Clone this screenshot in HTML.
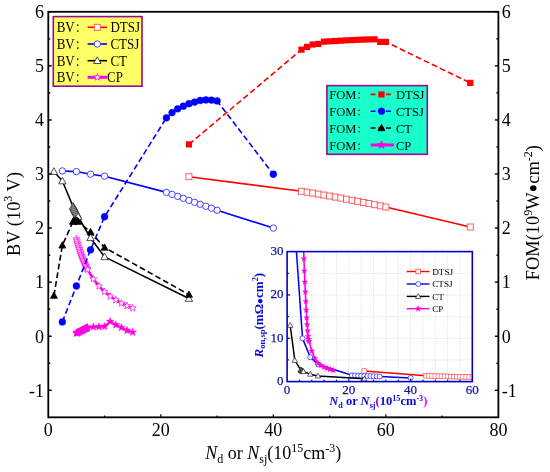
<!DOCTYPE html>
<html lang="en"><head><meta charset="utf-8"><title>BV and FOM versus doping</title>
<style>html,body{margin:0;padding:0;background:#fff}svg{display:block}</style></head>
<body>
<svg width="550" height="472" viewBox="0 0 550 472" font-family="'Liberation Serif', 'Noto Serif CJK SC', serif">
<rect width="550" height="472" fill="#fff"/>
<polyline points="188.95,176.71 301.47,191.27 307.1,192.19 312.72,193.13 318.35,194.09 323.97,195.07 329.6,196.06 335.23,197.08 340.85,198.11 346.48,199.16 352.1,200.23 357.73,201.32 363.36,202.43 368.98,203.55 374.61,204.7 380.23,205.86 385.86,207.04 470.25,227" fill="none" stroke="#ff0000" stroke-width="1.6" stroke-linejoin="round"/>
<rect x="185.95" y="173.71" width="6" height="6" fill="#fff" stroke="#ff5050" stroke-width="0.9"/>
<rect x="298.47" y="188.27" width="6" height="6" fill="#fff" stroke="#ff5050" stroke-width="0.9"/>
<rect x="304.1" y="189.19" width="6" height="6" fill="#fff" stroke="#ff5050" stroke-width="0.9"/>
<rect x="309.72" y="190.13" width="6" height="6" fill="#fff" stroke="#ff5050" stroke-width="0.9"/>
<rect x="315.35" y="191.09" width="6" height="6" fill="#fff" stroke="#ff5050" stroke-width="0.9"/>
<rect x="320.97" y="192.07" width="6" height="6" fill="#fff" stroke="#ff5050" stroke-width="0.9"/>
<rect x="326.6" y="193.06" width="6" height="6" fill="#fff" stroke="#ff5050" stroke-width="0.9"/>
<rect x="332.23" y="194.08" width="6" height="6" fill="#fff" stroke="#ff5050" stroke-width="0.9"/>
<rect x="337.85" y="195.11" width="6" height="6" fill="#fff" stroke="#ff5050" stroke-width="0.9"/>
<rect x="343.48" y="196.16" width="6" height="6" fill="#fff" stroke="#ff5050" stroke-width="0.9"/>
<rect x="349.1" y="197.23" width="6" height="6" fill="#fff" stroke="#ff5050" stroke-width="0.9"/>
<rect x="354.73" y="198.32" width="6" height="6" fill="#fff" stroke="#ff5050" stroke-width="0.9"/>
<rect x="360.36" y="199.43" width="6" height="6" fill="#fff" stroke="#ff5050" stroke-width="0.9"/>
<rect x="365.98" y="200.55" width="6" height="6" fill="#fff" stroke="#ff5050" stroke-width="0.9"/>
<rect x="371.61" y="201.7" width="6" height="6" fill="#fff" stroke="#ff5050" stroke-width="0.9"/>
<rect x="377.23" y="202.86" width="6" height="6" fill="#fff" stroke="#ff5050" stroke-width="0.9"/>
<rect x="382.86" y="204.04" width="6" height="6" fill="#fff" stroke="#ff5050" stroke-width="0.9"/>
<rect x="467.25" y="224" width="6" height="6" fill="#fff" stroke="#ff5050" stroke-width="0.9"/>
<polyline points="62.36,170.93 76.43,171.58 90.5,174.23 104.56,176.17 166.45,192.39 172.07,194.38 177.7,196.36 183.32,198.34 188.95,200.32 194.58,202.31 200.2,204.29 205.83,206.27 211.45,208.25 217.08,210.24 273.34,228.08" fill="none" stroke="#0000ff" stroke-width="1.6" stroke-linejoin="round"/>
<circle cx="62.36" cy="170.93" r="3.2" fill="#fff" stroke="#3030ff" stroke-width="0.9"/>
<circle cx="76.43" cy="171.58" r="3.2" fill="#fff" stroke="#3030ff" stroke-width="0.9"/>
<circle cx="90.5" cy="174.23" r="3.2" fill="#fff" stroke="#3030ff" stroke-width="0.9"/>
<circle cx="104.56" cy="176.17" r="3.2" fill="#fff" stroke="#3030ff" stroke-width="0.9"/>
<circle cx="166.45" cy="192.39" r="3.2" fill="#fff" stroke="#3030ff" stroke-width="0.9"/>
<circle cx="172.07" cy="194.38" r="3.2" fill="#fff" stroke="#3030ff" stroke-width="0.9"/>
<circle cx="177.7" cy="196.36" r="3.2" fill="#fff" stroke="#3030ff" stroke-width="0.9"/>
<circle cx="183.32" cy="198.34" r="3.2" fill="#fff" stroke="#3030ff" stroke-width="0.9"/>
<circle cx="188.95" cy="200.32" r="3.2" fill="#fff" stroke="#3030ff" stroke-width="0.9"/>
<circle cx="194.58" cy="202.31" r="3.2" fill="#fff" stroke="#3030ff" stroke-width="0.9"/>
<circle cx="200.2" cy="204.29" r="3.2" fill="#fff" stroke="#3030ff" stroke-width="0.9"/>
<circle cx="205.83" cy="206.27" r="3.2" fill="#fff" stroke="#3030ff" stroke-width="0.9"/>
<circle cx="211.45" cy="208.25" r="3.2" fill="#fff" stroke="#3030ff" stroke-width="0.9"/>
<circle cx="217.08" cy="210.24" r="3.2" fill="#fff" stroke="#3030ff" stroke-width="0.9"/>
<circle cx="273.34" cy="228.08" r="3.2" fill="#fff" stroke="#3030ff" stroke-width="0.9"/>
<polyline points="53.93,171.58 62.36,181.04 73.05,206.45 73.62,207.59 74.18,208.73 74.74,209.88 75.3,211.02 75.87,212.16 76.43,213.3 76.99,214.44 77.56,215.58 78.12,216.73 90.5,237.81 104.56,256.9 188.95,298.53" fill="none" stroke="#000000" stroke-width="1.6" stroke-linejoin="round"/>
<polygon points="53.93,167.71 50.23,174.37 57.63,174.37" fill="#fff" stroke="#222" stroke-width="0.8" stroke-linejoin="miter"/>
<polygon points="62.36,177.18 58.66,183.84 66.06,183.84" fill="#fff" stroke="#222" stroke-width="0.8" stroke-linejoin="miter"/>
<polygon points="73.05,202.59 69.35,209.25 76.75,209.25" fill="#fff" stroke="#222" stroke-width="0.8" stroke-linejoin="miter"/>
<polygon points="73.62,203.73 69.92,210.39 77.32,210.39" fill="#fff" stroke="#222" stroke-width="0.8" stroke-linejoin="miter"/>
<polygon points="74.18,204.87 70.48,211.53 77.88,211.53" fill="#fff" stroke="#222" stroke-width="0.8" stroke-linejoin="miter"/>
<polygon points="74.74,206.01 71.04,212.67 78.44,212.67" fill="#fff" stroke="#222" stroke-width="0.8" stroke-linejoin="miter"/>
<polygon points="75.3,207.16 71.6,213.82 79,213.82" fill="#fff" stroke="#222" stroke-width="0.8" stroke-linejoin="miter"/>
<polygon points="75.87,208.3 72.17,214.96 79.57,214.96" fill="#fff" stroke="#222" stroke-width="0.8" stroke-linejoin="miter"/>
<polygon points="76.43,209.44 72.73,216.1 80.13,216.1" fill="#fff" stroke="#222" stroke-width="0.8" stroke-linejoin="miter"/>
<polygon points="76.99,210.58 73.29,217.24 80.69,217.24" fill="#fff" stroke="#222" stroke-width="0.8" stroke-linejoin="miter"/>
<polygon points="77.56,211.72 73.86,218.38 81.26,218.38" fill="#fff" stroke="#222" stroke-width="0.8" stroke-linejoin="miter"/>
<polygon points="78.12,212.86 74.42,219.52 81.82,219.52" fill="#fff" stroke="#222" stroke-width="0.8" stroke-linejoin="miter"/>
<polygon points="90.5,233.95 86.8,240.61 94.2,240.61" fill="#fff" stroke="#222" stroke-width="0.8" stroke-linejoin="miter"/>
<polygon points="104.56,253.04 100.86,259.7 108.26,259.7" fill="#fff" stroke="#222" stroke-width="0.8" stroke-linejoin="miter"/>
<polygon points="188.95,294.67 185.25,301.33 192.65,301.33" fill="#fff" stroke="#222" stroke-width="0.8" stroke-linejoin="miter"/>
<polyline points="76.43,238.89 76.99,241.05 77.56,243.11 78.12,245.1 78.68,247 79.24,248.83 79.81,250.59 80.37,252.29 80.93,253.92 81.49,255.5 82.06,257.01 82.62,258.48 83.18,259.9 83.74,261.26 84.31,262.59 84.87,263.86 85.43,265.1 85.99,266.3 86.56,267.46 87.12,268.59 87.68,269.68 93.31,279 98.93,286.13 104.56,291.75 110.19,296.29 115.81,300.03 121.44,303.16 127.06,305.82 132.69,308.1" fill="none" stroke="#ff00e0" stroke-width="2.6" stroke-linejoin="round"/>
<polygon points="76.43,235.19 77.34,237.64 79.95,237.75 77.91,239.37 78.6,241.89 76.43,240.45 74.26,241.89 74.95,239.37 72.91,237.75 75.52,237.64" fill="#fff" stroke="#ff00e0" stroke-width="0.7" stroke-linejoin="miter"/>
<polygon points="76.99,237.35 77.91,239.79 80.51,239.9 78.47,241.53 79.17,244.04 76.99,242.6 74.82,244.04 75.51,241.53 73.47,239.9 76.08,239.79" fill="#fff" stroke="#ff00e0" stroke-width="0.7" stroke-linejoin="miter"/>
<polygon points="77.56,239.41 78.47,241.86 81.07,241.97 79.03,243.59 79.73,246.11 77.56,244.67 75.38,246.11 76.08,243.59 74.04,241.97 76.64,241.86" fill="#fff" stroke="#ff00e0" stroke-width="0.7" stroke-linejoin="miter"/>
<polygon points="78.12,241.4 79.03,243.84 81.64,243.95 79.6,245.58 80.29,248.09 78.12,246.65 75.94,248.09 76.64,245.58 74.6,243.95 77.2,243.84" fill="#fff" stroke="#ff00e0" stroke-width="0.7" stroke-linejoin="miter"/>
<polygon points="78.68,243.3 79.59,245.74 82.2,245.86 80.16,247.48 80.86,249.99 78.68,248.55 76.51,249.99 77.2,247.48 75.16,245.86 77.77,245.74" fill="#fff" stroke="#ff00e0" stroke-width="0.7" stroke-linejoin="miter"/>
<polygon points="79.24,245.13 80.16,247.57 82.76,247.69 80.72,249.31 81.42,251.82 79.24,250.39 77.07,251.82 77.77,249.31 75.72,247.69 78.33,247.57" fill="#fff" stroke="#ff00e0" stroke-width="0.7" stroke-linejoin="miter"/>
<polygon points="79.81,246.89 80.72,249.34 83.32,249.45 81.28,251.07 81.98,253.59 79.81,252.15 77.63,253.59 78.33,251.07 76.29,249.45 78.89,249.34" fill="#fff" stroke="#ff00e0" stroke-width="0.7" stroke-linejoin="miter"/>
<polygon points="80.37,248.59 81.28,251.03 83.89,251.14 81.85,252.77 82.54,255.28 80.37,253.84 78.19,255.28 78.89,252.77 76.85,251.14 79.45,251.03" fill="#fff" stroke="#ff00e0" stroke-width="0.7" stroke-linejoin="miter"/>
<polygon points="80.93,250.22 81.84,252.66 84.45,252.78 82.41,254.4 83.11,256.91 80.93,255.48 78.76,256.91 79.45,254.4 77.41,252.78 80.02,252.66" fill="#fff" stroke="#ff00e0" stroke-width="0.7" stroke-linejoin="miter"/>
<polygon points="81.49,251.8 82.41,254.24 85.01,254.35 82.97,255.98 83.67,258.49 81.49,257.05 79.32,258.49 80.02,255.98 77.97,254.35 80.58,254.24" fill="#fff" stroke="#ff00e0" stroke-width="0.7" stroke-linejoin="miter"/>
<polygon points="82.06,253.31 82.97,255.76 85.57,255.87 83.53,257.49 84.23,260.01 82.06,258.57 79.88,260.01 80.58,257.49 78.54,255.87 81.14,255.76" fill="#fff" stroke="#ff00e0" stroke-width="0.7" stroke-linejoin="miter"/>
<polygon points="82.62,254.78 83.53,257.22 86.14,257.34 84.1,258.96 84.79,261.47 82.62,260.03 80.44,261.47 81.14,258.96 79.1,257.34 81.71,257.22" fill="#fff" stroke="#ff00e0" stroke-width="0.7" stroke-linejoin="miter"/>
<polygon points="83.18,256.2 84.09,258.64 86.7,258.75 84.66,260.38 85.36,262.89 83.18,261.45 81.01,262.89 81.7,260.38 79.66,258.75 82.27,258.64" fill="#fff" stroke="#ff00e0" stroke-width="0.7" stroke-linejoin="miter"/>
<polygon points="83.74,257.56 84.66,260.01 87.26,260.12 85.22,261.74 85.92,264.26 83.74,262.82 81.57,264.26 82.27,261.74 80.22,260.12 82.83,260.01" fill="#fff" stroke="#ff00e0" stroke-width="0.7" stroke-linejoin="miter"/>
<polygon points="84.31,258.89 85.22,261.33 87.83,261.44 85.78,263.07 86.48,265.58 84.31,264.14 82.13,265.58 82.83,263.07 80.79,261.44 83.39,261.33" fill="#fff" stroke="#ff00e0" stroke-width="0.7" stroke-linejoin="miter"/>
<polygon points="84.87,260.16 85.78,262.61 88.39,262.72 86.35,264.34 87.04,266.86 84.87,265.42 82.69,266.86 83.39,264.34 81.35,262.72 83.96,262.61" fill="#fff" stroke="#ff00e0" stroke-width="0.7" stroke-linejoin="miter"/>
<polygon points="85.43,261.4 86.35,263.84 88.95,263.96 86.91,265.58 87.61,268.1 85.43,266.66 83.26,268.1 83.95,265.58 81.91,263.96 84.52,263.84" fill="#fff" stroke="#ff00e0" stroke-width="0.7" stroke-linejoin="miter"/>
<polygon points="85.99,262.6 86.91,265.04 89.51,265.16 87.47,266.78 88.17,269.29 85.99,267.85 83.82,269.29 84.52,266.78 82.48,265.16 85.08,265.04" fill="#fff" stroke="#ff00e0" stroke-width="0.7" stroke-linejoin="miter"/>
<polygon points="86.56,263.76 87.47,266.2 90.08,266.32 88.03,267.94 88.73,270.45 86.56,269.01 84.38,270.45 85.08,267.94 83.04,266.32 85.64,266.2" fill="#fff" stroke="#ff00e0" stroke-width="0.7" stroke-linejoin="miter"/>
<polygon points="87.12,264.89 88.03,267.33 90.64,267.44 88.6,269.07 89.29,271.58 87.12,270.14 84.94,271.58 85.64,269.07 83.6,267.44 86.21,267.33" fill="#fff" stroke="#ff00e0" stroke-width="0.7" stroke-linejoin="miter"/>
<polygon points="87.68,265.98 88.6,268.42 91.2,268.53 89.16,270.16 89.86,272.67 87.68,271.23 85.51,272.67 86.2,270.16 84.16,268.53 86.77,268.42" fill="#fff" stroke="#ff00e0" stroke-width="0.7" stroke-linejoin="miter"/>
<polygon points="93.31,275.3 94.22,277.74 96.83,277.85 94.79,279.48 95.48,281.99 93.31,280.55 91.13,281.99 91.83,279.48 89.79,277.85 92.39,277.74" fill="#fff" stroke="#ff00e0" stroke-width="0.7" stroke-linejoin="miter"/>
<polygon points="98.93,282.43 99.85,284.87 102.45,284.98 100.41,286.61 101.11,289.12 98.93,287.68 96.76,289.12 97.46,286.61 95.42,284.98 98.02,284.87" fill="#fff" stroke="#ff00e0" stroke-width="0.7" stroke-linejoin="miter"/>
<polygon points="104.56,288.05 105.47,290.49 108.08,290.61 106.04,292.23 106.73,294.74 104.56,293.3 102.39,294.74 103.08,292.23 101.04,290.61 103.65,290.49" fill="#fff" stroke="#ff00e0" stroke-width="0.7" stroke-linejoin="miter"/>
<polygon points="110.19,292.59 111.1,295.03 113.7,295.15 111.66,296.77 112.36,299.28 110.19,297.84 108.01,299.28 108.71,296.77 106.67,295.15 109.27,295.03" fill="#fff" stroke="#ff00e0" stroke-width="0.7" stroke-linejoin="miter"/>
<polygon points="115.81,296.33 116.73,298.77 119.33,298.89 117.29,300.51 117.99,303.02 115.81,301.58 113.64,303.02 114.33,300.51 112.29,298.89 114.9,298.77" fill="#fff" stroke="#ff00e0" stroke-width="0.7" stroke-linejoin="miter"/>
<polygon points="121.44,299.46 122.35,301.9 124.96,302.02 122.92,303.64 123.61,306.15 121.44,304.71 119.26,306.15 119.96,303.64 117.92,302.02 120.52,301.9" fill="#fff" stroke="#ff00e0" stroke-width="0.7" stroke-linejoin="miter"/>
<polygon points="127.06,302.12 127.98,304.56 130.58,304.67 128.54,306.3 129.24,308.81 127.06,307.37 124.89,308.81 125.59,306.3 123.55,304.67 126.15,304.56" fill="#fff" stroke="#ff00e0" stroke-width="0.7" stroke-linejoin="miter"/>
<polygon points="132.69,304.4 133.6,306.84 136.21,306.95 134.17,308.58 134.86,311.09 132.69,309.65 130.52,311.09 131.21,308.58 129.17,306.95 131.78,306.84" fill="#fff" stroke="#ff00e0" stroke-width="0.7" stroke-linejoin="miter"/>
<polyline points="188.95,144.38 301.47,49.65 307.1,46.95 312.72,44.51 318.35,43.97 323.97,41.65 329.6,41.32 335.23,41 340.85,40.67 346.48,40.35 352.1,40.08 357.73,39.81 363.36,39.59 368.98,39.43 374.61,39.32 380.23,41.92 385.86,41.92 470.25,82.9" fill="none" stroke="#ff0000" stroke-width="1.6" stroke-dasharray="5.8 3.1" stroke-linejoin="round"/>
<rect x="185.85" y="141.28" width="6.2" height="6.2" fill="#ff0000" stroke="#ff0000" stroke-width="0"/>
<rect x="298.37" y="46.55" width="6.2" height="6.2" fill="#ff0000" stroke="#ff0000" stroke-width="0"/>
<rect x="304" y="43.85" width="6.2" height="6.2" fill="#ff0000" stroke="#ff0000" stroke-width="0"/>
<rect x="309.62" y="41.41" width="6.2" height="6.2" fill="#ff0000" stroke="#ff0000" stroke-width="0"/>
<rect x="315.25" y="40.87" width="6.2" height="6.2" fill="#ff0000" stroke="#ff0000" stroke-width="0"/>
<rect x="320.87" y="38.55" width="6.2" height="6.2" fill="#ff0000" stroke="#ff0000" stroke-width="0"/>
<rect x="326.5" y="38.22" width="6.2" height="6.2" fill="#ff0000" stroke="#ff0000" stroke-width="0"/>
<rect x="332.13" y="37.9" width="6.2" height="6.2" fill="#ff0000" stroke="#ff0000" stroke-width="0"/>
<rect x="337.75" y="37.57" width="6.2" height="6.2" fill="#ff0000" stroke="#ff0000" stroke-width="0"/>
<rect x="343.38" y="37.25" width="6.2" height="6.2" fill="#ff0000" stroke="#ff0000" stroke-width="0"/>
<rect x="349" y="36.98" width="6.2" height="6.2" fill="#ff0000" stroke="#ff0000" stroke-width="0"/>
<rect x="354.63" y="36.71" width="6.2" height="6.2" fill="#ff0000" stroke="#ff0000" stroke-width="0"/>
<rect x="360.26" y="36.49" width="6.2" height="6.2" fill="#ff0000" stroke="#ff0000" stroke-width="0"/>
<rect x="365.88" y="36.33" width="6.2" height="6.2" fill="#ff0000" stroke="#ff0000" stroke-width="0"/>
<rect x="371.51" y="36.22" width="6.2" height="6.2" fill="#ff0000" stroke="#ff0000" stroke-width="0"/>
<rect x="377.13" y="38.82" width="6.2" height="6.2" fill="#ff0000" stroke="#ff0000" stroke-width="0"/>
<rect x="382.76" y="38.82" width="6.2" height="6.2" fill="#ff0000" stroke="#ff0000" stroke-width="0"/>
<rect x="467.15" y="79.8" width="6.2" height="6.2" fill="#ff0000" stroke="#ff0000" stroke-width="0"/>
<polyline points="62.36,321.89 76.43,285.99 90.5,249.87 104.56,216.73 166.45,117.78 172.07,112.59 177.7,108.8 183.32,106.21 188.95,103.72 194.58,102.1 200.2,100.47 205.83,99.93 211.45,100.1 217.08,100.91 273.34,174.23" fill="none" stroke="#0000ff" stroke-width="1.6" stroke-dasharray="5.8 3.1" stroke-linejoin="round"/>
<circle cx="62.36" cy="321.89" r="3.4" fill="#0000ff" stroke="#0000ff" stroke-width="0.5"/>
<circle cx="76.43" cy="285.99" r="3.4" fill="#0000ff" stroke="#0000ff" stroke-width="0.5"/>
<circle cx="90.5" cy="249.87" r="3.4" fill="#0000ff" stroke="#0000ff" stroke-width="0.5"/>
<circle cx="104.56" cy="216.73" r="3.4" fill="#0000ff" stroke="#0000ff" stroke-width="0.5"/>
<circle cx="166.45" cy="117.78" r="3.4" fill="#0000ff" stroke="#0000ff" stroke-width="0.5"/>
<circle cx="172.07" cy="112.59" r="3.4" fill="#0000ff" stroke="#0000ff" stroke-width="0.5"/>
<circle cx="177.7" cy="108.8" r="3.4" fill="#0000ff" stroke="#0000ff" stroke-width="0.5"/>
<circle cx="183.32" cy="106.21" r="3.4" fill="#0000ff" stroke="#0000ff" stroke-width="0.5"/>
<circle cx="188.95" cy="103.72" r="3.4" fill="#0000ff" stroke="#0000ff" stroke-width="0.5"/>
<circle cx="194.58" cy="102.1" r="3.4" fill="#0000ff" stroke="#0000ff" stroke-width="0.5"/>
<circle cx="200.2" cy="100.47" r="3.4" fill="#0000ff" stroke="#0000ff" stroke-width="0.5"/>
<circle cx="205.83" cy="99.93" r="3.4" fill="#0000ff" stroke="#0000ff" stroke-width="0.5"/>
<circle cx="211.45" cy="100.1" r="3.4" fill="#0000ff" stroke="#0000ff" stroke-width="0.5"/>
<circle cx="217.08" cy="100.91" r="3.4" fill="#0000ff" stroke="#0000ff" stroke-width="0.5"/>
<circle cx="273.34" cy="174.23" r="3.4" fill="#0000ff" stroke="#0000ff" stroke-width="0.5"/>
<polyline points="53.93,295.67 62.36,245.38 73.05,221.59 73.62,221.22 74.18,220.9 74.74,220.66 75.3,220.53 75.87,220.53 76.43,220.66 76.99,220.9 77.56,221.22 78.12,221.59 90.5,231.97 104.56,247.55 188.95,294.59" fill="none" stroke="#000000" stroke-width="1.6" stroke-dasharray="5.8 3.1" stroke-linejoin="round"/>
<polygon points="53.93,292.01 50.43,298.31 57.43,298.31" fill="#000000" stroke="#000000" stroke-width="0.8" stroke-linejoin="miter"/>
<polygon points="62.36,241.73 58.86,248.03 65.86,248.03" fill="#000000" stroke="#000000" stroke-width="0.8" stroke-linejoin="miter"/>
<polygon points="73.05,217.94 69.55,224.24 76.55,224.24" fill="#000000" stroke="#000000" stroke-width="0.8" stroke-linejoin="miter"/>
<polygon points="73.62,217.57 70.12,223.87 77.12,223.87" fill="#000000" stroke="#000000" stroke-width="0.8" stroke-linejoin="miter"/>
<polygon points="74.18,217.24 70.68,223.54 77.68,223.54" fill="#000000" stroke="#000000" stroke-width="0.8" stroke-linejoin="miter"/>
<polygon points="74.74,217 71.24,223.3 78.24,223.3" fill="#000000" stroke="#000000" stroke-width="0.8" stroke-linejoin="miter"/>
<polygon points="75.3,216.87 71.8,223.17 78.8,223.17" fill="#000000" stroke="#000000" stroke-width="0.8" stroke-linejoin="miter"/>
<polygon points="75.87,216.87 72.37,223.17 79.37,223.17" fill="#000000" stroke="#000000" stroke-width="0.8" stroke-linejoin="miter"/>
<polygon points="76.43,217 72.93,223.3 79.93,223.3" fill="#000000" stroke="#000000" stroke-width="0.8" stroke-linejoin="miter"/>
<polygon points="76.99,217.24 73.49,223.54 80.49,223.54" fill="#000000" stroke="#000000" stroke-width="0.8" stroke-linejoin="miter"/>
<polygon points="77.56,217.57 74.06,223.87 81.06,223.87" fill="#000000" stroke="#000000" stroke-width="0.8" stroke-linejoin="miter"/>
<polygon points="78.12,217.94 74.62,224.24 81.62,224.24" fill="#000000" stroke="#000000" stroke-width="0.8" stroke-linejoin="miter"/>
<polygon points="90.5,228.32 87,234.62 94,234.62" fill="#000000" stroke="#000000" stroke-width="0.8" stroke-linejoin="miter"/>
<polygon points="104.56,243.89 101.06,250.19 108.06,250.19" fill="#000000" stroke="#000000" stroke-width="0.8" stroke-linejoin="miter"/>
<polygon points="188.95,290.93 185.45,297.23 192.45,297.23" fill="#000000" stroke="#000000" stroke-width="0.8" stroke-linejoin="miter"/>
<polyline points="76.43,333.19 76.99,332.91 77.56,332.63 78.12,332.35 78.68,332.07 79.24,331.79 79.81,331.51 80.37,331.22 80.93,330.94 81.49,330.66 82.06,330.38 82.62,330.1 83.18,329.82 83.74,329.54 84.31,329.26 84.87,328.97 85.43,328.69 85.99,328.41 86.56,328.13 87.12,327.85 87.68,327.57 93.31,326.92 98.93,326.76 104.56,326.49 110.19,321.51 115.81,324.87 121.44,327.57 127.06,330.43 132.69,332.27" fill="none" stroke="#ff00e0" stroke-width="2.0" stroke-linejoin="round"/>
<polygon points="76.43,329.09 77.44,331.8 80.33,331.93 78.07,333.72 78.84,336.51 76.43,334.91 74.02,336.51 74.79,333.72 72.53,331.93 75.42,331.8" fill="#ff00e0" stroke="#ff00e0" stroke-width="0.4" stroke-linejoin="miter"/>
<polygon points="76.99,328.81 78,331.52 80.89,331.64 78.63,333.44 79.4,336.23 76.99,334.63 74.58,336.23 75.35,333.44 73.09,331.64 75.98,331.52" fill="#ff00e0" stroke="#ff00e0" stroke-width="0.4" stroke-linejoin="miter"/>
<polygon points="77.56,328.53 78.57,331.24 81.45,331.36 79.19,333.16 79.97,335.95 77.56,334.35 75.15,335.95 75.92,333.16 73.66,331.36 76.54,331.24" fill="#ff00e0" stroke="#ff00e0" stroke-width="0.4" stroke-linejoin="miter"/>
<polygon points="78.12,328.25 79.13,330.96 82.02,331.08 79.76,332.88 80.53,335.67 78.12,334.07 75.71,335.67 76.48,332.88 74.22,331.08 77.11,330.96" fill="#ff00e0" stroke="#ff00e0" stroke-width="0.4" stroke-linejoin="miter"/>
<polygon points="78.68,327.97 79.69,330.67 82.58,330.8 80.32,332.6 81.09,335.38 78.68,333.79 76.27,335.38 77.04,332.6 74.78,330.8 77.67,330.67" fill="#ff00e0" stroke="#ff00e0" stroke-width="0.4" stroke-linejoin="miter"/>
<polygon points="79.24,327.69 80.26,330.39 83.14,330.52 80.88,332.32 81.65,335.1 79.24,333.51 76.83,335.1 77.61,332.32 75.34,330.52 78.23,330.39" fill="#ff00e0" stroke="#ff00e0" stroke-width="0.4" stroke-linejoin="miter"/>
<polygon points="79.81,327.41 80.82,330.11 83.7,330.24 81.44,332.04 82.22,334.82 79.81,333.23 77.4,334.82 78.17,332.04 75.91,330.24 78.79,330.11" fill="#ff00e0" stroke="#ff00e0" stroke-width="0.4" stroke-linejoin="miter"/>
<polygon points="80.37,327.12 81.38,329.83 84.27,329.96 82.01,331.76 82.78,334.54 80.37,332.95 77.96,334.54 78.73,331.76 76.47,329.96 79.36,329.83" fill="#ff00e0" stroke="#ff00e0" stroke-width="0.4" stroke-linejoin="miter"/>
<polygon points="80.93,326.84 81.94,329.55 84.83,329.68 82.57,331.47 83.34,334.26 80.93,332.66 78.52,334.26 79.29,331.47 77.03,329.68 79.92,329.55" fill="#ff00e0" stroke="#ff00e0" stroke-width="0.4" stroke-linejoin="miter"/>
<polygon points="81.49,326.56 82.51,329.27 85.39,329.39 83.13,331.19 83.9,333.98 81.49,332.38 79.08,333.98 79.86,331.19 77.59,329.39 80.48,329.27" fill="#ff00e0" stroke="#ff00e0" stroke-width="0.4" stroke-linejoin="miter"/>
<polygon points="82.06,326.28 83.07,328.99 85.96,329.11 83.69,330.91 84.47,333.7 82.06,332.1 79.65,333.7 80.42,330.91 78.16,329.11 81.04,328.99" fill="#ff00e0" stroke="#ff00e0" stroke-width="0.4" stroke-linejoin="miter"/>
<polygon points="82.62,326 83.63,328.71 86.52,328.83 84.26,330.63 85.03,333.42 82.62,331.82 80.21,333.42 80.98,330.63 78.72,328.83 81.61,328.71" fill="#ff00e0" stroke="#ff00e0" stroke-width="0.4" stroke-linejoin="miter"/>
<polygon points="83.18,325.72 84.19,328.42 87.08,328.55 84.82,330.35 85.59,333.14 83.18,331.54 80.77,333.14 81.54,330.35 79.28,328.55 82.17,328.42" fill="#ff00e0" stroke="#ff00e0" stroke-width="0.4" stroke-linejoin="miter"/>
<polygon points="83.74,325.44 84.76,328.14 87.64,328.27 85.38,330.07 86.15,332.85 83.74,331.26 81.33,332.85 82.11,330.07 79.84,328.27 82.73,328.14" fill="#ff00e0" stroke="#ff00e0" stroke-width="0.4" stroke-linejoin="miter"/>
<polygon points="84.31,325.16 85.32,327.86 88.21,327.99 85.94,329.79 86.72,332.57 84.31,330.98 81.9,332.57 82.67,329.79 80.41,327.99 83.29,327.86" fill="#ff00e0" stroke="#ff00e0" stroke-width="0.4" stroke-linejoin="miter"/>
<polygon points="84.87,324.87 85.88,327.58 88.77,327.71 86.51,329.51 87.28,332.29 84.87,330.7 82.46,332.29 83.23,329.51 80.97,327.71 83.86,327.58" fill="#ff00e0" stroke="#ff00e0" stroke-width="0.4" stroke-linejoin="miter"/>
<polygon points="85.43,324.59 86.44,327.3 89.33,327.43 87.07,329.23 87.84,332.01 85.43,330.42 83.02,332.01 83.79,329.23 81.53,327.43 84.42,327.3" fill="#ff00e0" stroke="#ff00e0" stroke-width="0.4" stroke-linejoin="miter"/>
<polygon points="85.99,324.31 87.01,327.02 89.89,327.15 87.63,328.94 88.4,331.73 85.99,330.13 83.58,331.73 84.36,328.94 82.09,327.15 84.98,327.02" fill="#ff00e0" stroke="#ff00e0" stroke-width="0.4" stroke-linejoin="miter"/>
<polygon points="86.56,324.03 87.57,326.74 90.46,326.86 88.19,328.66 88.97,331.45 86.56,329.85 84.15,331.45 84.92,328.66 82.66,326.86 85.54,326.74" fill="#ff00e0" stroke="#ff00e0" stroke-width="0.4" stroke-linejoin="miter"/>
<polygon points="87.12,323.75 88.13,326.46 91.02,326.58 88.76,328.38 89.53,331.17 87.12,329.57 84.71,331.17 85.48,328.38 83.22,326.58 86.11,326.46" fill="#ff00e0" stroke="#ff00e0" stroke-width="0.4" stroke-linejoin="miter"/>
<polygon points="87.68,323.47 88.69,326.18 91.58,326.3 89.32,328.1 90.09,330.89 87.68,329.29 85.27,330.89 86.04,328.1 83.78,326.3 86.67,326.18" fill="#ff00e0" stroke="#ff00e0" stroke-width="0.4" stroke-linejoin="miter"/>
<polygon points="93.31,322.82 94.32,325.53 97.21,325.65 94.95,327.45 95.72,330.24 93.31,328.64 90.9,330.24 91.67,327.45 89.41,325.65 92.3,325.53" fill="#ff00e0" stroke="#ff00e0" stroke-width="0.4" stroke-linejoin="miter"/>
<polygon points="98.93,322.66 99.95,325.36 102.83,325.49 100.57,327.29 101.34,330.07 98.93,328.48 96.52,330.07 97.3,327.29 95.03,325.49 97.92,325.36" fill="#ff00e0" stroke="#ff00e0" stroke-width="0.4" stroke-linejoin="miter"/>
<polygon points="104.56,322.39 105.57,325.09 108.46,325.22 106.2,327.02 106.97,329.8 104.56,328.21 102.15,329.8 102.92,327.02 100.66,325.22 103.55,325.09" fill="#ff00e0" stroke="#ff00e0" stroke-width="0.4" stroke-linejoin="miter"/>
<polygon points="110.19,317.41 111.2,320.12 114.09,320.25 111.82,322.05 112.6,324.83 110.19,323.23 107.78,324.83 108.55,322.05 106.29,320.25 109.17,320.12" fill="#ff00e0" stroke="#ff00e0" stroke-width="0.4" stroke-linejoin="miter"/>
<polygon points="115.81,320.77 116.82,323.47 119.71,323.6 117.45,325.4 118.22,328.18 115.81,326.59 113.4,328.18 114.17,325.4 111.91,323.6 114.8,323.47" fill="#ff00e0" stroke="#ff00e0" stroke-width="0.4" stroke-linejoin="miter"/>
<polygon points="121.44,323.47 122.45,326.18 125.34,326.3 123.08,328.1 123.85,330.89 121.44,329.29 119.03,330.89 119.8,328.1 117.54,326.3 120.43,326.18" fill="#ff00e0" stroke="#ff00e0" stroke-width="0.4" stroke-linejoin="miter"/>
<polygon points="127.06,326.33 128.08,329.04 130.96,329.17 128.7,330.97 129.47,333.75 127.06,332.16 124.65,333.75 125.43,330.97 123.16,329.17 126.05,329.04" fill="#ff00e0" stroke="#ff00e0" stroke-width="0.4" stroke-linejoin="miter"/>
<polygon points="132.69,328.17 133.7,330.88 136.59,331.01 134.33,332.81 135.1,335.59 132.69,333.99 130.28,335.59 131.05,332.81 128.79,331.01 131.68,330.88" fill="#ff00e0" stroke="#ff00e0" stroke-width="0.4" stroke-linejoin="miter"/>
<rect x="48.3" y="11.8" width="450.08" height="405.52" fill="none" stroke="#000" stroke-width="1.8"/>
<line x1="48.3" x2="51.8" y1="390.29" y2="390.29" stroke="#000" stroke-width="1.4"/>
<line x1="498.38" x2="494.88" y1="390.29" y2="390.29" stroke="#000" stroke-width="1.4"/>
<text transform="translate(44,396.59) scale(1,1.08)" font-size="18" text-anchor="end">-1</text>
<text transform="translate(501.68,396.59) scale(1,1.08)" font-size="18" text-anchor="start">-1</text>
<line x1="48.3" x2="51.8" y1="336.22" y2="336.22" stroke="#000" stroke-width="1.4"/>
<line x1="498.38" x2="494.88" y1="336.22" y2="336.22" stroke="#000" stroke-width="1.4"/>
<text transform="translate(44,342.52) scale(1,1.08)" font-size="18" text-anchor="end">0</text>
<text transform="translate(501.68,342.52) scale(1,1.08)" font-size="18" text-anchor="start">0</text>
<line x1="48.3" x2="51.8" y1="282.15" y2="282.15" stroke="#000" stroke-width="1.4"/>
<line x1="498.38" x2="494.88" y1="282.15" y2="282.15" stroke="#000" stroke-width="1.4"/>
<text transform="translate(44,288.45) scale(1,1.08)" font-size="18" text-anchor="end">1</text>
<text transform="translate(501.68,288.45) scale(1,1.08)" font-size="18" text-anchor="start">1</text>
<line x1="48.3" x2="51.8" y1="228.08" y2="228.08" stroke="#000" stroke-width="1.4"/>
<line x1="498.38" x2="494.88" y1="228.08" y2="228.08" stroke="#000" stroke-width="1.4"/>
<text transform="translate(44,234.38) scale(1,1.08)" font-size="18" text-anchor="end">2</text>
<text transform="translate(501.68,234.38) scale(1,1.08)" font-size="18" text-anchor="start">2</text>
<line x1="48.3" x2="51.8" y1="174.01" y2="174.01" stroke="#000" stroke-width="1.4"/>
<line x1="498.38" x2="494.88" y1="174.01" y2="174.01" stroke="#000" stroke-width="1.4"/>
<text transform="translate(44,180.31) scale(1,1.08)" font-size="18" text-anchor="end">3</text>
<text transform="translate(501.68,180.31) scale(1,1.08)" font-size="18" text-anchor="start">3</text>
<line x1="48.3" x2="51.8" y1="119.94" y2="119.94" stroke="#000" stroke-width="1.4"/>
<line x1="498.38" x2="494.88" y1="119.94" y2="119.94" stroke="#000" stroke-width="1.4"/>
<text transform="translate(44,126.24) scale(1,1.08)" font-size="18" text-anchor="end">4</text>
<text transform="translate(501.68,126.24) scale(1,1.08)" font-size="18" text-anchor="start">4</text>
<line x1="48.3" x2="51.8" y1="65.87" y2="65.87" stroke="#000" stroke-width="1.4"/>
<line x1="498.38" x2="494.88" y1="65.87" y2="65.87" stroke="#000" stroke-width="1.4"/>
<text transform="translate(44,72.17) scale(1,1.08)" font-size="18" text-anchor="end">5</text>
<text transform="translate(501.68,72.17) scale(1,1.08)" font-size="18" text-anchor="start">5</text>
<line x1="48.3" x2="51.8" y1="11.8" y2="11.8" stroke="#000" stroke-width="1.4"/>
<line x1="498.38" x2="494.88" y1="11.8" y2="11.8" stroke="#000" stroke-width="1.4"/>
<text transform="translate(44,18.1) scale(1,1.08)" font-size="18" text-anchor="end">6</text>
<text transform="translate(501.68,18.1) scale(1,1.08)" font-size="18" text-anchor="start">6</text>
<line x1="48.3" x2="50.3" y1="363.25" y2="363.25" stroke="#000" stroke-width="1.4"/>
<line x1="498.38" x2="496.38" y1="363.25" y2="363.25" stroke="#000" stroke-width="1.4"/>
<line x1="48.3" x2="50.3" y1="309.19" y2="309.19" stroke="#000" stroke-width="1.4"/>
<line x1="498.38" x2="496.38" y1="309.19" y2="309.19" stroke="#000" stroke-width="1.4"/>
<line x1="48.3" x2="50.3" y1="255.12" y2="255.12" stroke="#000" stroke-width="1.4"/>
<line x1="498.38" x2="496.38" y1="255.12" y2="255.12" stroke="#000" stroke-width="1.4"/>
<line x1="48.3" x2="50.3" y1="201.05" y2="201.05" stroke="#000" stroke-width="1.4"/>
<line x1="498.38" x2="496.38" y1="201.05" y2="201.05" stroke="#000" stroke-width="1.4"/>
<line x1="48.3" x2="50.3" y1="146.98" y2="146.98" stroke="#000" stroke-width="1.4"/>
<line x1="498.38" x2="496.38" y1="146.98" y2="146.98" stroke="#000" stroke-width="1.4"/>
<line x1="48.3" x2="50.3" y1="92.91" y2="92.91" stroke="#000" stroke-width="1.4"/>
<line x1="498.38" x2="496.38" y1="92.91" y2="92.91" stroke="#000" stroke-width="1.4"/>
<line x1="48.3" x2="50.3" y1="38.84" y2="38.84" stroke="#000" stroke-width="1.4"/>
<line x1="498.38" x2="496.38" y1="38.84" y2="38.84" stroke="#000" stroke-width="1.4"/>
<text transform="translate(48.3,435.6) scale(1,1.08)" font-size="18" text-anchor="middle">0</text>
<line x1="104.56" x2="104.56" y1="417.32" y2="415.52" stroke="#000" stroke-width="1.2"/>
<line x1="160.82" x2="160.82" y1="417.32" y2="414.32" stroke="#000" stroke-width="1.2"/>
<text transform="translate(160.82,435.6) scale(1,1.08)" font-size="18" text-anchor="middle">20</text>
<line x1="217.08" x2="217.08" y1="417.32" y2="415.52" stroke="#000" stroke-width="1.2"/>
<line x1="273.34" x2="273.34" y1="417.32" y2="414.32" stroke="#000" stroke-width="1.2"/>
<text transform="translate(273.34,435.6) scale(1,1.08)" font-size="18" text-anchor="middle">40</text>
<line x1="329.6" x2="329.6" y1="417.32" y2="415.52" stroke="#000" stroke-width="1.2"/>
<line x1="385.86" x2="385.86" y1="417.32" y2="414.32" stroke="#000" stroke-width="1.2"/>
<text transform="translate(385.86,435.6) scale(1,1.08)" font-size="18" text-anchor="middle">60</text>
<line x1="442.12" x2="442.12" y1="417.32" y2="415.52" stroke="#000" stroke-width="1.2"/>
<text transform="translate(498.38,435.6) scale(1,1.08)" font-size="18" text-anchor="middle">80</text>
<text transform="translate(273.3,459.2) scale(1,1.05)" font-size="18" text-anchor="middle"><tspan font-style="italic">N</tspan><tspan font-size="12" dy="4">d</tspan><tspan dy="-4"> or </tspan><tspan font-style="italic">N</tspan><tspan font-size="12" dy="4">sj</tspan><tspan dy="-4">(10</tspan><tspan font-size="12" dy="-6.5">15</tspan><tspan dy="6.5">cm</tspan><tspan font-size="12" dy="-6.5">-3</tspan><tspan dy="6.5">)</tspan></text>
<text transform="translate(19.6,214) rotate(-90) scale(1,1.05)" font-size="18.4" text-anchor="middle">BV (10<tspan font-size="12" dy="-6.8">3</tspan><tspan dy="6.8"> V)</tspan></text>
<text transform="translate(538.8,212.6) rotate(-90) scale(1,1.05)" font-size="18.4" text-anchor="middle">FOM(10<tspan font-size="12" dy="-6.8">9</tspan><tspan dy="6.8">W</tspan><tspan font-size="25" dy="4.3">•</tspan><tspan dy="-4.3">cm</tspan><tspan font-size="12" dy="-6.8">-2</tspan><tspan dy="6.8">)</tspan></text>
<rect x="53.3" y="16.6" width="88.7" height="69.6" fill="#ffff66" stroke="#980a94" stroke-width="1.6"/>
<text transform="translate(56.7,32.2) scale(1,1.07)" font-size="13.0" text-anchor="start">BV：</text>
<line x1="87.6" x2="107" y1="27.3" y2="27.3" stroke="#ff0000" stroke-width="1.6"/>
<rect x="94.3" y="24.3" width="6" height="6" fill="#fff" stroke="#ff5050" stroke-width="0.9"/>
<text transform="translate(110.4,32.2) scale(1,1.07)" font-size="13.0" text-anchor="start">DTSJ</text>
<text transform="translate(56.7,48.9) scale(1,1.07)" font-size="13.0" text-anchor="start">BV：</text>
<line x1="87.6" x2="107" y1="44" y2="44" stroke="#0000ff" stroke-width="1.6"/>
<circle cx="97.3" cy="44" r="3.2" fill="#fff" stroke="#3030ff" stroke-width="0.9"/>
<text transform="translate(110.4,48.9) scale(1,1.07)" font-size="13.0" text-anchor="start">CTSJ</text>
<text transform="translate(56.7,65.6) scale(1,1.07)" font-size="13.0" text-anchor="start">BV：</text>
<line x1="87.6" x2="107" y1="60.7" y2="60.7" stroke="#000000" stroke-width="1.6"/>
<polygon points="97.3,56.84 93.6,63.5 101,63.5" fill="#fff" stroke="#222" stroke-width="0.8" stroke-linejoin="miter"/>
<text transform="translate(110.4,65.6) scale(1,1.07)" font-size="13.0" text-anchor="start">CT</text>
<text transform="translate(56.7,82.2) scale(1,1.07)" font-size="13.0" text-anchor="start">BV：</text>
<line x1="87.6" x2="107" y1="77.3" y2="77.3" stroke="#ff00e0" stroke-width="3"/>
<polygon points="97.3,73.7 98.19,76.08 100.72,76.19 98.74,77.77 99.42,80.21 97.3,78.81 95.18,80.21 95.86,77.77 93.88,76.19 96.41,76.08" fill="#fff" stroke="#ff00e0" stroke-width="0.7" stroke-linejoin="miter"/>
<text transform="translate(107,82.2) scale(1,1.07)" font-size="13.0" text-anchor="start">CP</text>
<rect x="326.9" y="85.6" width="100.4" height="68.7" fill="#19ffcc" stroke="#980a94" stroke-width="1.6"/>
<text transform="translate(329.2,99) scale(1,0.95)" font-size="12.5" text-anchor="start">FOM：</text>
<line x1="370.6" x2="391" y1="94.4" y2="94.4" stroke="#ff0000" stroke-width="1.6" stroke-dasharray="5 2.7"/>
<rect x="378.4" y="91.3" width="6.2" height="6.2" fill="#ff0000" stroke="#ff0000" stroke-width="0"/>
<text transform="translate(396,99) scale(1,0.95)" font-size="12.5" text-anchor="start">DTSJ</text>
<text transform="translate(329.2,115.8) scale(1,0.95)" font-size="12.5" text-anchor="start">FOM：</text>
<line x1="370.6" x2="391" y1="111.2" y2="111.2" stroke="#0000ff" stroke-width="1.6" stroke-dasharray="5 2.7"/>
<circle cx="381.5" cy="111.2" r="3.4" fill="#0000ff" stroke="#0000ff" stroke-width="0.5"/>
<text transform="translate(396,115.8) scale(1,0.95)" font-size="12.5" text-anchor="start">CTSJ</text>
<text transform="translate(329.2,132.6) scale(1,0.95)" font-size="12.5" text-anchor="start">FOM：</text>
<line x1="370.6" x2="391" y1="128" y2="128" stroke="#000000" stroke-width="1.6" stroke-dasharray="5 2.7"/>
<polygon points="381.5,124.24 377.9,130.72 385.1,130.72" fill="#000000" stroke="#000000" stroke-width="0.8" stroke-linejoin="miter"/>
<text transform="translate(396,132.6) scale(1,0.95)" font-size="12.5" text-anchor="start">CT</text>
<text transform="translate(329.2,149.6) scale(1,0.95)" font-size="12.5" text-anchor="start">FOM：</text>
<line x1="370.6" x2="394" y1="145" y2="145" stroke="#ff00e0" stroke-width="3"/>
<polygon points="381.5,140.6 382.59,143.5 385.68,143.64 383.26,145.57 384.09,148.56 381.5,146.85 378.91,148.56 379.74,145.57 377.32,143.64 380.41,143.5" fill="#ff00e0" stroke="#ff00e0" stroke-width="0.5" stroke-linejoin="miter"/>
<text transform="translate(396,149.6) scale(1,0.95)" font-size="12.5" text-anchor="start">CP</text>
<rect x="287.1" y="251.61" width="185.22" height="129.99" fill="#fff"/>
<line x1="299.45" x2="299.45" y1="251.61" y2="381.6" stroke="#dadada" stroke-width="0.8" stroke-dasharray="1.2 1.2"/>
<line x1="311.8" x2="311.8" y1="251.61" y2="381.6" stroke="#dadada" stroke-width="0.8" stroke-dasharray="1.2 1.2"/>
<line x1="324.14" x2="324.14" y1="251.61" y2="381.6" stroke="#dadada" stroke-width="0.8" stroke-dasharray="1.2 1.2"/>
<line x1="336.49" x2="336.49" y1="251.61" y2="381.6" stroke="#dadada" stroke-width="0.8" stroke-dasharray="1.2 1.2"/>
<line x1="348.84" x2="348.84" y1="251.61" y2="381.6" stroke="#dadada" stroke-width="0.8" stroke-dasharray="1.2 1.2"/>
<line x1="361.19" x2="361.19" y1="251.61" y2="381.6" stroke="#dadada" stroke-width="0.8" stroke-dasharray="1.2 1.2"/>
<line x1="373.54" x2="373.54" y1="251.61" y2="381.6" stroke="#dadada" stroke-width="0.8" stroke-dasharray="1.2 1.2"/>
<line x1="385.88" x2="385.88" y1="251.61" y2="381.6" stroke="#dadada" stroke-width="0.8" stroke-dasharray="1.2 1.2"/>
<line x1="398.23" x2="398.23" y1="251.61" y2="381.6" stroke="#dadada" stroke-width="0.8" stroke-dasharray="1.2 1.2"/>
<line x1="410.58" x2="410.58" y1="251.61" y2="381.6" stroke="#dadada" stroke-width="0.8" stroke-dasharray="1.2 1.2"/>
<line x1="422.93" x2="422.93" y1="251.61" y2="381.6" stroke="#dadada" stroke-width="0.8" stroke-dasharray="1.2 1.2"/>
<line x1="435.28" x2="435.28" y1="251.61" y2="381.6" stroke="#dadada" stroke-width="0.8" stroke-dasharray="1.2 1.2"/>
<line x1="447.62" x2="447.62" y1="251.61" y2="381.6" stroke="#dadada" stroke-width="0.8" stroke-dasharray="1.2 1.2"/>
<line x1="459.97" x2="459.97" y1="251.61" y2="381.6" stroke="#dadada" stroke-width="0.8" stroke-dasharray="1.2 1.2"/>
<line x1="287.1" x2="472.32" y1="359.94" y2="359.94" stroke="#dadada" stroke-width="0.8" stroke-dasharray="1.2 1.2"/>
<line x1="287.1" x2="472.32" y1="338.27" y2="338.27" stroke="#dadada" stroke-width="0.8" stroke-dasharray="1.2 1.2"/>
<line x1="287.1" x2="472.32" y1="316.61" y2="316.61" stroke="#dadada" stroke-width="0.8" stroke-dasharray="1.2 1.2"/>
<line x1="287.1" x2="472.32" y1="294.94" y2="294.94" stroke="#dadada" stroke-width="0.8" stroke-dasharray="1.2 1.2"/>
<line x1="287.1" x2="472.32" y1="273.28" y2="273.28" stroke="#dadada" stroke-width="0.8" stroke-dasharray="1.2 1.2"/>
<clipPath id="ic"><rect x="287.1" y="251.61" width="185.22" height="129.99"/></clipPath>
<g clip-path="url(#ic)">
<polyline points="364.28,370.97 426.02,375.72 429.1,375.85 432.19,375.98 435.28,376.06 438.36,376.18 441.45,376.26 444.54,376.34 447.62,376.43 450.71,376.51 453.8,376.6 456.88,376.68 459.97,376.76 463.06,376.85 466.15,376.93 469.23,376.97 472.32,377.06 518.62,377.83" fill="none" stroke="#ff0000" stroke-width="1.5" stroke-linejoin="round"/>
<rect x="361.98" y="368.67" width="4.6" height="4.6" fill="#fff" stroke="#ff5a5a" stroke-width="0.7"/>
<rect x="423.72" y="373.42" width="4.6" height="4.6" fill="#fff" stroke="#ff5a5a" stroke-width="0.7"/>
<rect x="426.8" y="373.55" width="4.6" height="4.6" fill="#fff" stroke="#ff5a5a" stroke-width="0.7"/>
<rect x="429.89" y="373.68" width="4.6" height="4.6" fill="#fff" stroke="#ff5a5a" stroke-width="0.7"/>
<rect x="432.98" y="373.76" width="4.6" height="4.6" fill="#fff" stroke="#ff5a5a" stroke-width="0.7"/>
<rect x="436.06" y="373.88" width="4.6" height="4.6" fill="#fff" stroke="#ff5a5a" stroke-width="0.7"/>
<rect x="439.15" y="373.96" width="4.6" height="4.6" fill="#fff" stroke="#ff5a5a" stroke-width="0.7"/>
<rect x="442.24" y="374.04" width="4.6" height="4.6" fill="#fff" stroke="#ff5a5a" stroke-width="0.7"/>
<rect x="445.32" y="374.13" width="4.6" height="4.6" fill="#fff" stroke="#ff5a5a" stroke-width="0.7"/>
<rect x="448.41" y="374.21" width="4.6" height="4.6" fill="#fff" stroke="#ff5a5a" stroke-width="0.7"/>
<rect x="451.5" y="374.3" width="4.6" height="4.6" fill="#fff" stroke="#ff5a5a" stroke-width="0.7"/>
<rect x="454.58" y="374.38" width="4.6" height="4.6" fill="#fff" stroke="#ff5a5a" stroke-width="0.7"/>
<rect x="457.67" y="374.46" width="4.6" height="4.6" fill="#fff" stroke="#ff5a5a" stroke-width="0.7"/>
<rect x="460.76" y="374.55" width="4.6" height="4.6" fill="#fff" stroke="#ff5a5a" stroke-width="0.7"/>
<rect x="463.85" y="374.63" width="4.6" height="4.6" fill="#fff" stroke="#ff5a5a" stroke-width="0.7"/>
<rect x="466.93" y="374.67" width="4.6" height="4.6" fill="#fff" stroke="#ff5a5a" stroke-width="0.7"/>
<rect x="470.02" y="374.76" width="4.6" height="4.6" fill="#fff" stroke="#ff5a5a" stroke-width="0.7"/>
<rect x="516.33" y="375.53" width="4.6" height="4.6" fill="#fff" stroke="#ff5a5a" stroke-width="0.7"/>
<polyline points="294.82,228.8 302.54,338.35 310.25,357.25 317.97,364.42 351.93,375.32 355.01,375.45 358.1,375.58 361.19,375.71 364.28,375.84 367.36,375.97 370.45,376.1 373.54,376.23 376.62,376.36 379.71,376.49 410.58,377.92" fill="none" stroke="#0000ff" stroke-width="1.5" stroke-linejoin="round"/>
<circle cx="294.82" cy="228.8" r="2.5" fill="#fff" stroke="#3030ff" stroke-width="0.8"/>
<circle cx="302.54" cy="338.35" r="2.5" fill="#fff" stroke="#3030ff" stroke-width="0.8"/>
<circle cx="310.25" cy="357.25" r="2.5" fill="#fff" stroke="#3030ff" stroke-width="0.8"/>
<circle cx="317.97" cy="364.42" r="2.5" fill="#fff" stroke="#3030ff" stroke-width="0.8"/>
<circle cx="351.93" cy="375.32" r="2.5" fill="#fff" stroke="#3030ff" stroke-width="0.8"/>
<circle cx="355.01" cy="375.45" r="2.5" fill="#fff" stroke="#3030ff" stroke-width="0.8"/>
<circle cx="358.1" cy="375.58" r="2.5" fill="#fff" stroke="#3030ff" stroke-width="0.8"/>
<circle cx="361.19" cy="375.71" r="2.5" fill="#fff" stroke="#3030ff" stroke-width="0.8"/>
<circle cx="364.28" cy="375.84" r="2.5" fill="#fff" stroke="#3030ff" stroke-width="0.8"/>
<circle cx="367.36" cy="375.97" r="2.5" fill="#fff" stroke="#3030ff" stroke-width="0.8"/>
<circle cx="370.45" cy="376.1" r="2.5" fill="#fff" stroke="#3030ff" stroke-width="0.8"/>
<circle cx="373.54" cy="376.23" r="2.5" fill="#fff" stroke="#3030ff" stroke-width="0.8"/>
<circle cx="376.62" cy="376.36" r="2.5" fill="#fff" stroke="#3030ff" stroke-width="0.8"/>
<circle cx="379.71" cy="376.49" r="2.5" fill="#fff" stroke="#3030ff" stroke-width="0.8"/>
<circle cx="410.58" cy="377.92" r="2.5" fill="#fff" stroke="#3030ff" stroke-width="0.8"/>
<polyline points="290.19,325.27 294.82,360.36 300.68,369.83 300.99,370.07 301.3,370.31 301.61,370.53 301.92,370.74 302.23,370.94 302.54,371.12 302.84,371.29 303.15,371.46 303.46,371.62 310.25,374.16 317.97,375.91 364.28,378.87" fill="none" stroke="#000000" stroke-width="1.5" stroke-linejoin="round"/>
<polygon points="290.19,322.45 287.49,327.31 292.89,327.31" fill="#fff" stroke="#222" stroke-width="0.7" stroke-linejoin="miter"/>
<polygon points="294.82,357.54 292.12,362.4 297.52,362.4" fill="#fff" stroke="#222" stroke-width="0.7" stroke-linejoin="miter"/>
<polygon points="300.68,367.01 297.98,371.87 303.38,371.87" fill="#fff" stroke="#222" stroke-width="0.7" stroke-linejoin="miter"/>
<polygon points="300.99,367.25 298.29,372.11 303.69,372.11" fill="#fff" stroke="#222" stroke-width="0.7" stroke-linejoin="miter"/>
<polygon points="301.3,367.49 298.6,372.35 304,372.35" fill="#fff" stroke="#222" stroke-width="0.7" stroke-linejoin="miter"/>
<polygon points="301.61,367.71 298.91,372.57 304.31,372.57" fill="#fff" stroke="#222" stroke-width="0.7" stroke-linejoin="miter"/>
<polygon points="301.92,367.92 299.22,372.78 304.62,372.78" fill="#fff" stroke="#222" stroke-width="0.7" stroke-linejoin="miter"/>
<polygon points="302.23,368.12 299.53,372.98 304.93,372.98" fill="#fff" stroke="#222" stroke-width="0.7" stroke-linejoin="miter"/>
<polygon points="302.54,368.3 299.84,373.16 305.24,373.16" fill="#fff" stroke="#222" stroke-width="0.7" stroke-linejoin="miter"/>
<polygon points="302.84,368.48 300.14,373.34 305.54,373.34" fill="#fff" stroke="#222" stroke-width="0.7" stroke-linejoin="miter"/>
<polygon points="303.15,368.64 300.45,373.5 305.85,373.5" fill="#fff" stroke="#222" stroke-width="0.7" stroke-linejoin="miter"/>
<polygon points="303.46,368.8 300.76,373.66 306.16,373.66" fill="#fff" stroke="#222" stroke-width="0.7" stroke-linejoin="miter"/>
<polygon points="310.25,371.34 307.55,376.2 312.95,376.2" fill="#fff" stroke="#222" stroke-width="0.7" stroke-linejoin="miter"/>
<polygon points="317.97,373.1 315.27,377.96 320.67,377.96" fill="#fff" stroke="#222" stroke-width="0.7" stroke-linejoin="miter"/>
<polygon points="364.28,376.05 361.58,380.91 366.98,380.91" fill="#fff" stroke="#222" stroke-width="0.7" stroke-linejoin="miter"/>
<polyline points="302.54,186.62 303,216.17 303.46,241.25 303.92,258.68 304.39,270.92 304.85,281.94 305.31,291.86 305.78,301.3 306.24,309.97 306.7,317.7 307.17,324.6 307.63,330.75 308.09,336.24 308.55,339.45 309.02,341.33 311.8,351.01 314.88,358.49 317.97,363.08 321.06,365.59 324.14,367.3 327.23,368.39 330.32,369.4 333.41,370.33" fill="none" stroke="#ff00e0" stroke-width="1.6" stroke-linejoin="round"/>
<polygon points="302.54,183.62 303.28,185.6 305.39,185.69 303.73,187 304.3,189.04 302.54,187.88 300.77,189.04 301.34,187 299.68,185.69 301.79,185.6" fill="#ff00e0" stroke="#ff00e0" stroke-width="0.4" stroke-linejoin="miter"/>
<polygon points="303,213.17 303.74,215.15 305.85,215.24 304.2,216.56 304.76,218.6 303,217.43 301.23,218.6 301.8,216.56 300.14,215.24 302.26,215.15" fill="#ff00e0" stroke="#ff00e0" stroke-width="0.4" stroke-linejoin="miter"/>
<polygon points="303.46,238.25 304.2,240.23 306.31,240.32 304.66,241.64 305.22,243.67 303.46,242.51 301.7,243.67 302.26,241.64 300.61,240.32 302.72,240.23" fill="#ff00e0" stroke="#ff00e0" stroke-width="0.4" stroke-linejoin="miter"/>
<polygon points="303.92,255.68 304.66,257.66 306.78,257.75 305.12,259.07 305.69,261.11 303.92,259.94 302.16,261.11 302.73,259.07 301.07,257.75 303.18,257.66" fill="#ff00e0" stroke="#ff00e0" stroke-width="0.4" stroke-linejoin="miter"/>
<polygon points="304.39,267.92 305.13,269.9 307.24,269.99 305.59,271.31 306.15,273.34 304.39,272.18 302.62,273.34 303.19,271.31 301.53,269.99 303.65,269.9" fill="#ff00e0" stroke="#ff00e0" stroke-width="0.4" stroke-linejoin="miter"/>
<polygon points="304.85,278.94 305.59,280.92 307.7,281.01 306.05,282.33 306.61,284.36 304.85,283.2 303.09,284.36 303.65,282.33 302,281.01 304.11,280.92" fill="#ff00e0" stroke="#ff00e0" stroke-width="0.4" stroke-linejoin="miter"/>
<polygon points="305.31,288.86 306.05,290.84 308.17,290.93 306.51,292.25 307.08,294.28 305.31,293.12 303.55,294.28 304.11,292.25 302.46,290.93 304.57,290.84" fill="#ff00e0" stroke="#ff00e0" stroke-width="0.4" stroke-linejoin="miter"/>
<polygon points="305.78,298.3 306.52,300.28 308.63,300.37 306.97,301.69 307.54,303.72 305.78,302.56 304.01,303.72 304.58,301.69 302.92,300.37 305.04,300.28" fill="#ff00e0" stroke="#ff00e0" stroke-width="0.4" stroke-linejoin="miter"/>
<polygon points="306.24,306.97 306.98,308.95 309.09,309.04 307.44,310.36 308,312.39 306.24,311.23 304.48,312.39 305.04,310.36 303.39,309.04 305.5,308.95" fill="#ff00e0" stroke="#ff00e0" stroke-width="0.4" stroke-linejoin="miter"/>
<polygon points="306.7,314.7 307.44,316.68 309.56,316.77 307.9,318.09 308.47,320.13 306.7,318.96 304.94,320.13 305.5,318.09 303.85,316.77 305.96,316.68" fill="#ff00e0" stroke="#ff00e0" stroke-width="0.4" stroke-linejoin="miter"/>
<polygon points="307.17,321.6 307.91,323.58 310.02,323.67 308.36,324.99 308.93,327.03 307.17,325.86 305.4,327.03 305.97,324.99 304.31,323.67 306.42,323.58" fill="#ff00e0" stroke="#ff00e0" stroke-width="0.4" stroke-linejoin="miter"/>
<polygon points="307.63,327.75 308.37,329.73 310.48,329.83 308.83,331.14 309.39,333.18 307.63,332.01 305.87,333.18 306.43,331.14 304.78,329.83 306.89,329.73" fill="#ff00e0" stroke="#ff00e0" stroke-width="0.4" stroke-linejoin="miter"/>
<polygon points="308.09,333.24 308.83,335.22 310.94,335.32 309.29,336.63 309.85,338.67 308.09,337.5 306.33,338.67 306.89,336.63 305.24,335.32 307.35,335.22" fill="#ff00e0" stroke="#ff00e0" stroke-width="0.4" stroke-linejoin="miter"/>
<polygon points="308.55,336.45 309.3,338.43 311.41,338.52 309.75,339.83 310.32,341.87 308.55,340.71 306.79,341.87 307.36,339.83 305.7,338.52 307.81,338.43" fill="#ff00e0" stroke="#ff00e0" stroke-width="0.4" stroke-linejoin="miter"/>
<polygon points="309.02,338.33 309.76,340.31 311.87,340.41 310.22,341.72 310.78,343.76 309.02,342.59 307.25,343.76 307.82,341.72 306.16,340.41 308.28,340.31" fill="#ff00e0" stroke="#ff00e0" stroke-width="0.4" stroke-linejoin="miter"/>
<polygon points="311.8,348.01 312.54,349.99 314.65,350.09 312.99,351.4 313.56,353.44 311.8,352.27 310.03,353.44 310.6,351.4 308.94,350.09 311.06,349.99" fill="#ff00e0" stroke="#ff00e0" stroke-width="0.4" stroke-linejoin="miter"/>
<polygon points="314.88,355.49 315.62,357.47 317.74,357.56 316.08,358.88 316.65,360.92 314.88,359.75 313.12,360.92 313.68,358.88 312.03,357.56 314.14,357.47" fill="#ff00e0" stroke="#ff00e0" stroke-width="0.4" stroke-linejoin="miter"/>
<polygon points="317.97,360.08 318.71,362.06 320.82,362.15 319.17,363.47 319.73,365.51 317.97,364.34 316.21,365.51 316.77,363.47 315.12,362.15 317.23,362.06" fill="#ff00e0" stroke="#ff00e0" stroke-width="0.4" stroke-linejoin="miter"/>
<polygon points="321.06,362.59 321.8,364.57 323.91,364.66 322.26,365.98 322.82,368.01 321.06,366.85 319.29,368.01 319.86,365.98 318.2,364.66 320.32,364.57" fill="#ff00e0" stroke="#ff00e0" stroke-width="0.4" stroke-linejoin="miter"/>
<polygon points="324.14,364.3 324.88,366.28 327,366.37 325.34,367.69 325.91,369.73 324.14,368.56 322.38,369.73 322.95,367.69 321.29,366.37 323.4,366.28" fill="#ff00e0" stroke="#ff00e0" stroke-width="0.4" stroke-linejoin="miter"/>
<polygon points="327.23,365.39 327.97,367.37 330.08,367.47 328.43,368.78 328.99,370.82 327.23,369.65 325.47,370.82 326.03,368.78 324.38,367.47 326.49,367.37" fill="#ff00e0" stroke="#ff00e0" stroke-width="0.4" stroke-linejoin="miter"/>
<polygon points="330.32,366.4 331.06,368.38 333.17,368.48 331.52,369.79 332.08,371.83 330.32,370.66 328.55,371.83 329.12,369.79 327.46,368.48 329.58,368.38" fill="#ff00e0" stroke="#ff00e0" stroke-width="0.4" stroke-linejoin="miter"/>
<polygon points="333.41,367.33 334.15,369.31 336.26,369.41 334.6,370.72 335.17,372.76 333.41,371.59 331.64,372.76 332.21,370.72 330.55,369.41 332.66,369.31" fill="#ff00e0" stroke="#ff00e0" stroke-width="0.4" stroke-linejoin="miter"/>
</g>
<rect x="287.1" y="251.61" width="185.22" height="129.99" fill="none" stroke="#0000c0" stroke-width="1.6"/>
<line x1="299.45" x2="299.45" y1="381.6" y2="379.8" stroke="#0000c0" stroke-width="1.2"/>
<line x1="311.8" x2="311.8" y1="381.6" y2="379.8" stroke="#0000c0" stroke-width="1.2"/>
<line x1="324.14" x2="324.14" y1="381.6" y2="379.8" stroke="#0000c0" stroke-width="1.2"/>
<line x1="336.49" x2="336.49" y1="381.6" y2="379.8" stroke="#0000c0" stroke-width="1.2"/>
<line x1="348.84" x2="348.84" y1="381.6" y2="378.6" stroke="#0000c0" stroke-width="1.2"/>
<line x1="361.19" x2="361.19" y1="381.6" y2="379.8" stroke="#0000c0" stroke-width="1.2"/>
<line x1="373.54" x2="373.54" y1="381.6" y2="379.8" stroke="#0000c0" stroke-width="1.2"/>
<line x1="385.88" x2="385.88" y1="381.6" y2="379.8" stroke="#0000c0" stroke-width="1.2"/>
<line x1="398.23" x2="398.23" y1="381.6" y2="379.8" stroke="#0000c0" stroke-width="1.2"/>
<line x1="410.58" x2="410.58" y1="381.6" y2="378.6" stroke="#0000c0" stroke-width="1.2"/>
<line x1="422.93" x2="422.93" y1="381.6" y2="379.8" stroke="#0000c0" stroke-width="1.2"/>
<line x1="435.28" x2="435.28" y1="381.6" y2="379.8" stroke="#0000c0" stroke-width="1.2"/>
<line x1="447.62" x2="447.62" y1="381.6" y2="379.8" stroke="#0000c0" stroke-width="1.2"/>
<line x1="459.97" x2="459.97" y1="381.6" y2="379.8" stroke="#0000c0" stroke-width="1.2"/>
<line x1="287.1" x2="288.9" y1="359.94" y2="359.94" stroke="#0000c0" stroke-width="1.2"/>
<line x1="287.1" x2="290.1" y1="338.27" y2="338.27" stroke="#0000c0" stroke-width="1.2"/>
<line x1="287.1" x2="288.9" y1="316.61" y2="316.61" stroke="#0000c0" stroke-width="1.2"/>
<line x1="287.1" x2="290.1" y1="294.94" y2="294.94" stroke="#0000c0" stroke-width="1.2"/>
<line x1="287.1" x2="288.9" y1="273.28" y2="273.28" stroke="#0000c0" stroke-width="1.2"/>
<text x="287.1" y="394.3" font-size="13" fill="#1414a8" stroke="#1414a8" stroke-width="0.25" text-anchor="middle">0</text>
<text x="348.84" y="394.3" font-size="13" fill="#1414a8" stroke="#1414a8" stroke-width="0.25" text-anchor="middle">20</text>
<text x="410.58" y="394.3" font-size="13" fill="#1414a8" stroke="#1414a8" stroke-width="0.25" text-anchor="middle">40</text>
<text x="472.32" y="394.3" font-size="13" fill="#1414a8" stroke="#1414a8" stroke-width="0.25" text-anchor="middle">60</text>
<text x="283.6" y="385.1" font-size="13" fill="#1414a8" stroke="#1414a8" stroke-width="0.25" text-anchor="end">0</text>
<text x="283.6" y="341.77" font-size="13" fill="#1414a8" stroke="#1414a8" stroke-width="0.25" text-anchor="end">10</text>
<text x="283.6" y="298.44" font-size="13" fill="#1414a8" stroke="#1414a8" stroke-width="0.25" text-anchor="end">20</text>
<text x="283.6" y="255.11" font-size="13" fill="#1414a8" stroke="#1414a8" stroke-width="0.25" text-anchor="end">30</text>
<text x="329.2" y="405" font-size="12.5" font-weight="bold" fill="#0a0ad8"><tspan font-style="italic">N</tspan><tspan font-size="8.2" dy="2.6">d</tspan><tspan dy="-2.6"> or </tspan><tspan font-style="italic">N</tspan><tspan font-size="8.2" dy="2.6">sj</tspan><tspan dy="-2.6" fill="#a000d0">(</tspan>10<tspan font-size="8.2" dy="-4.4">15</tspan><tspan dy="4.4">cm</tspan><tspan font-size="8.2" dy="-4.4">-3</tspan><tspan dy="4.4" fill="#ff00ff">)</tspan></text>
<text transform="translate(262.6,315.2) rotate(-90)" font-size="13" font-weight="bold" fill="#0a0ad8" text-anchor="middle"><tspan font-style="italic">R</tspan><tspan font-size="8.6" dy="2.6">on,sp</tspan><tspan dy="-2.6">(mΩ</tspan><tspan font-size="17" dy="2.9">•</tspan><tspan dy="-2.9">cm</tspan><tspan font-size="8.2" dy="-4.4">2</tspan><tspan dy="4.4">)</tspan></text>
<line x1="406.7" x2="429.5" y1="271.5" y2="271.5" stroke="#ff0000" stroke-width="1.4"/>
<rect x="415.9" y="269.2" width="4.6" height="4.6" fill="#fff" stroke="#ff4040" stroke-width="0.8"/>
<text x="432.2" y="274.7" font-size="9.2">DTSJ</text>
<line x1="406.7" x2="429.5" y1="284" y2="284" stroke="#0000ff" stroke-width="1.4"/>
<circle cx="418.2" cy="284" r="2.5" fill="#fff" stroke="#3030ff" stroke-width="0.8"/>
<text x="432.2" y="287.2" font-size="9.2">CTSJ</text>
<line x1="406.7" x2="429.5" y1="296.4" y2="296.4" stroke="#000000" stroke-width="1.4"/>
<polygon points="418.2,293.58 415.5,298.44 420.9,298.44" fill="#fff" stroke="#222" stroke-width="0.7" stroke-linejoin="miter"/>
<text x="432.2" y="299.59999999999997" font-size="9.2">CT</text>
<line x1="406.7" x2="429.5" y1="308.7" y2="308.7" stroke="#ff00e0" stroke-width="1.4"/>
<polygon points="418.2,305.7 418.94,307.68 421.05,307.77 419.4,309.09 419.96,311.13 418.2,309.96 416.44,311.13 417,309.09 415.35,307.77 417.46,307.68" fill="#ff00e0" stroke="#ff00e0" stroke-width="0.4" stroke-linejoin="miter"/>
<text x="432.2" y="311.9" font-size="9.2">CP</text>
</svg>
</body></html>
